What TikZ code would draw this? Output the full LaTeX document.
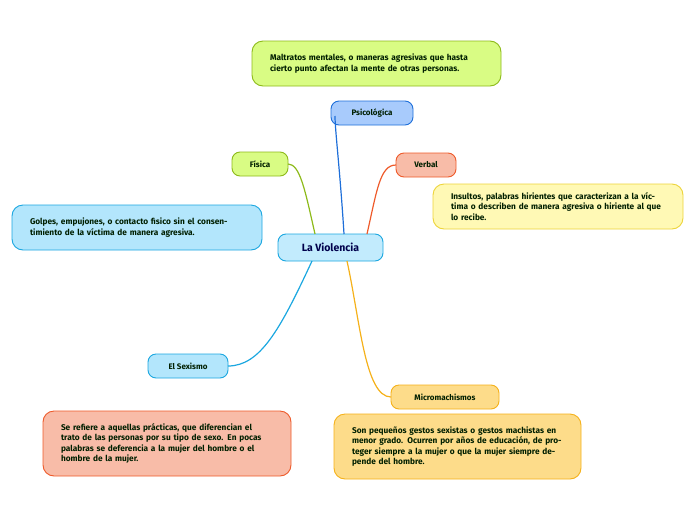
\documentclass[tikz,border=0pt]{standalone}
\usepackage{fontspec}
\setmainfont{Fira Sans}
\begin{document}
\begin{tikzpicture}[x=1pt,y=-1pt,
 box/.style={draw,rounded corners=11pt,line width=0.9pt,font=\fontsize{8.3}{10.5}\selectfont\bfseries,text=black!70!green!40!black,inner sep=0pt,align=left},
 topic/.style={draw,rounded corners=8pt,line width=0.9pt,font=\fontsize{8}{10}\selectfont\bfseries,text=black!70!green!40!black,inner sep=0pt,align=center},
 link/.style={line width=1.2pt}]
\useasboundingbox (0,0) rectangle (696,520);
\definecolor{gfill}{HTML}{D9FC84}\definecolor{gline}{HTML}{8DBA1A}
\definecolor{bfill}{HTML}{A8CBFC}\definecolor{bline}{HTML}{1E6FD9}
\definecolor{rfill}{HTML}{F8BCA8}\definecolor{rline}{HTML}{EE5A2A}
\definecolor{yfill}{HTML}{FFF9B5}\definecolor{yline}{HTML}{EDD43A}
\definecolor{cfill}{HTML}{B3E6FC}\definecolor{cline}{HTML}{1BA7E0}
\definecolor{ofill}{HTML}{FDDC8A}\definecolor{oline}{HTML}{F5B11A}
\node[box,fill=gfill,draw=gline,minimum width=249pt,minimum height=45pt,text width=213pt] (mal) at (376.5,63.5) {Maltratos mentales, o maneras agresivas que hasta cierto punto afectan la mente de otras personas.};
\node[topic,fill=bfill,draw=bline,minimum width=82pt,minimum height=24pt] (psi) at (372,113) {Psicológica};
\node[topic,fill=gfill,draw=gline,minimum width=56pt,minimum height=24pt] (fis) at (260,164) {Física};
\node[topic,fill=rfill,draw=rline,minimum width=60pt,minimum height=24pt] (ver) at (426,165) {Verbal};
\node[box,fill=yfill,draw=yline,minimum width=250pt,minimum height=45pt,text width=214pt] (ins) at (558,206.5) {Insultos, palabras hirientes que caracterizan a la víctima o describen de manera agresiva o hiriente al que lo recibe.};
\node[box,fill=cfill,draw=cline,minimum width=250pt,minimum height=45pt,text width=214pt] (gol) at (137,227.5) {Golpes, empujones, o contacto fisico sin el consentimiento de la víctima de manera agresiva.};
\node[topic,fill=cfill!80!white,draw=cline,minimum width=105pt,minimum height=27pt,font=\fontsize{10.5}{12}\selectfont\bfseries,text=blue!30!black] (vio) at (330.5,247.5) {La Violencia};
\node[topic,fill=cfill,draw=cline,minimum width=80pt,minimum height=24pt] (sex) at (188,366) {El Sexismo};
\node[topic,fill=ofill,draw=oline,minimum width=108pt,minimum height=24pt] (mic) at (445,397) {Micromachismos};
\node[box,fill=rfill,draw=rline,minimum width=248pt,minimum height=65pt,text width=212pt] (ser) at (167,443.5) {Se refiere a aquellas prácticas, que diferencian el trato de las personas por su tipo de sexo. En pocas palabras se deferencia a la mujer del hombre o el hombre de la mujer.};
\node[box,fill=ofill,draw=oline,minimum width=247pt,minimum height=65pt,text width=211pt] (son) at (457.5,446.5) {Son pequeños gestos sexistas o gestos machistas en menor grado. Ocurren por años de educación, de proteger siempre a la mujer o que la mujer siempre depende del hombre.};
\coordinate (p1) at (344,234); \coordinate (p2) at (315,234); \coordinate (p3) at (367,234);
\coordinate (p4) at (312,261); \coordinate (p5) at (347,261);
\coordinate (e1) at (335,116); \coordinate (e2) at (288,164); \coordinate (e3) at (396,165);
\coordinate (e4) at (228,366); \coordinate (e5) at (391,397);
\draw[link,bline] (p1) .. controls (340,170) and (335,130) .. (e1);
\draw[link,gline] (p2) .. controls (305,190) and (300,164) .. (e2);
\draw[link,rline] (p3) .. controls (377,190) and (380,165) .. (e3);
\draw[link,cline] (p4) .. controls (280,330) and (260,366) .. (e4);
\draw[link,oline] (p5) .. controls (360,320) and (365,397) .. (e5);
\end{tikzpicture}
\end{document}
